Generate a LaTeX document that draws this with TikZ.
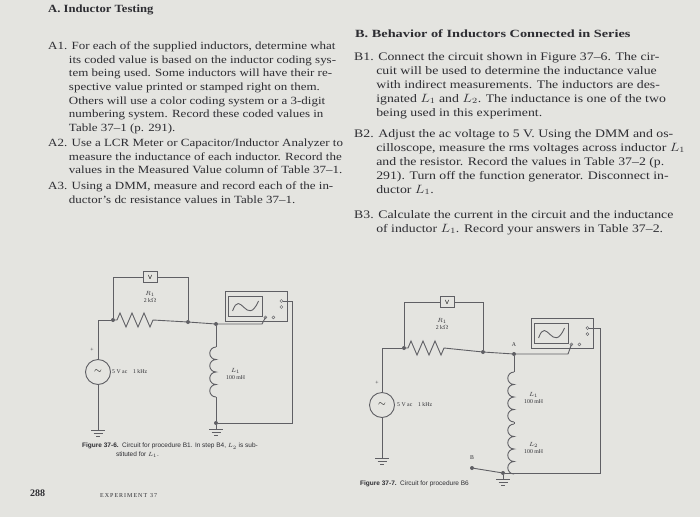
\documentclass[tikz,border=0pt]{standalone}
\usepackage{fontspec}
\setmainfont{Liberation Serif}
\setsansfont{Liberation Sans}
\usetikzlibrary{calc}
\definecolor{paper}{RGB}{228,228,224}
\definecolor{ink}{RGB}{45,45,50}
\definecolor{wire}{RGB}{95,95,100}
\newcommand{\lines}[2]{\scalebox{#1}[1]{\begin{tabular}{@{}l@{}}#2\end{tabular}}}
\tikzset{
  para/.style={anchor=north west,align=left,inner sep=0pt,font=\fontsize{11}{13.6}\selectfont,text=ink},
  parb/.style={anchor=north west,align=left,inner sep=0pt,font=\fontsize{11.5}{14}\selectfont,text=ink},
  head/.style={anchor=north west,inner sep=0pt,font=\bfseries\fontsize{11}{12}\selectfont,text=ink},
  figcap/.style={anchor=north west,align=left,inner sep=0pt,font=\sffamily\fontsize{6.5}{8.5}\selectfont,text=ink},
  lab/.style={inner sep=0pt,font=\fontsize{5.8}{6.8}\selectfont,text=ink,align=center},
  w/.style={draw=wire,line width=0.9pt},
  dot/.style={circle,fill=wire,inner sep=0pt,minimum size=4pt},
  meter/.style={draw=wire,line width=0.9pt,fill=paper,minimum width=14pt,minimum height=11pt,inner sep=0pt,font=\sffamily\fontsize{6}{6}\selectfont},
  src/.style={draw=wire,line width=0.9pt,circle,minimum size=25pt,inner sep=0pt},
}
\newcommand{\gnd}[1]{\draw[w] (#1) -- ++(0,6);
  \draw[w] ($(#1)+(-7,6)$) -- ++(14,0); \draw[w] ($(#1)+(-4.5,9)$) -- ++(9,0); \draw[w] ($(#1)+(-2,12)$) -- ++(4,0);}
\newcommand{\zig}[2]{\draw[w] (#1) -- ++(4,0) -- ++(3,-7) -- ++(6,14) -- ++(6,-14) -- ++(6,14) -- ++(6,-14) -- ++(6,14) -- ++(3,-7) -- (#2);}
\newcommand{\coil}[1]{\draw[w] (#1) \foreach \i in {1,...,4}{ arc[start angle=90,end angle=270,radius=6.25pt] };}
\newcommand{\oscope}[2]{\node[draw=wire,line width=0.9pt,fill=paper,minimum width=62pt,minimum height=30pt,inner sep=0pt] (#1) at (#2) {};
  \draw[w] ($(#1.west)+(4,-10)$) rectangle ($(#1.west)+(38,10)$);
  \draw[w] ($(#1.west)+(8,5)$) .. controls ($(#1.west)+(16,-18)$) and ($(#1.west)+(22,22)$) .. ($(#1.west)+(34,-5)$);
  \draw[wire] ($(#1.east)+(-6,-5)$) circle (1.5pt) ($(#1.east)+(-6,1)$) circle (1.5pt) ($(#1.south east)+(-14,-4)$) circle (1.5pt) ($(#1.south east)+(-22,-4)$) circle (1.5pt);}
\begin{document}
\begin{tikzpicture}[x=1pt,y=-1pt]
\useasboundingbox (0,0) rectangle (700,517);
\fill[paper] (0,0) rectangle (700,517);
% ---- left column
\node[head] (ha) at (48,5) {\scalebox{1.15}[1]{A. Inductor Testing}};
\node[para] (a1) at (48,40) {\lines{1.18}{A1. For each of the supplied inductors, determine what\\
\hspace*{1.6em}its coded value is based on the inductor coding sys-\\
\hspace*{1.6em}tem being used. Some inductors will have their re-\\
\hspace*{1.6em}spective value printed or stamped right on them.\\
\hspace*{1.6em}Others will use a color coding system or a 3-digit\\
\hspace*{1.6em}numbering system. Record these coded values in\\
\hspace*{1.6em}Table 37--1 (p. 291).}};
\node[para] (a2) at (48,137) {\lines{1.18}{A2. Use a LCR Meter or Capacitor/Inductor Analyzer to\\
\hspace*{1.6em}measure the inductance of each inductor. Record the\\
\hspace*{1.6em}values in the Measured Value column of Table 37--1.}};
\node[para] (a3) at (48,180) {\lines{1.18}{A3. Using a DMM, measure and record each of the in-\\
\hspace*{1.6em}ductor's dc resistance values in Table 37--1.}};
% ---- right column
\node[head] (hb) at (355,30) {\scalebox{1.3}[1]{B. Behavior of Inductors Connected in Series}};
\node[parb] (b1) at (354,50) {\lines{1.2}{B1. Connect the circuit shown in Figure 37--6. The cir-\\
\hspace*{1.6em}cuit will be used to determine the inductance value\\
\hspace*{1.6em}with indirect measurements. The inductors are des-\\
\hspace*{1.6em}ignated $L_1$ and $L_2$. The inductance is one of the two\\
\hspace*{1.6em}being used in this experiment.}};
\node[parb] (b2) at (354,127) {\lines{1.2}{B2. Adjust the ac voltage to 5 V. Using the DMM and os-\\
\hspace*{1.6em}cilloscope, measure the rms voltages across inductor $L_1$\\
\hspace*{1.6em}and the resistor. Record the values in Table 37--2 (p.\\
\hspace*{1.6em}291). Turn off the function generator. Disconnect in-\\
\hspace*{1.6em}ductor $L_1$.}};
\node[parb] (b3) at (354,208) {\lines{1.2}{B3. Calculate the current in the circuit and the inductance\\
\hspace*{1.6em}of inductor $L_1$. Record your answers in Table 37--2.}};
% ---- circuit 1
\coordinate (s1t) at (98,320);
\node[dot] (n1) at (113,320) {};
\node[dot] (n2) at (188,322) {};
\node[dot] (n3) at (216,324) {};
\node[dot] (n4) at (216,423) {};
\node[src] (s1) at (98,372) {$\sim$};
\node[meter] (v1) at (150,277) {V};
\draw[w] (n1) |- (v1.west); \draw[w] (v1.east) -| (n2);
\draw[w] (s1t) -- (s1.north); \draw[w] (s1t) -- (n1);
\zig{n1}{n2}
\draw[w] (n2) -- (n3);
\oscope{sc1}{256,306}
\draw[w] (n3) -- (262,324) -- ($(sc1.south east)+(-22,-4)$);
\draw[w] ($(sc1.east)+(-4,-5)$) -- (292,301) |- (n4);
\coordinate (c1a) at (216,347);
\draw[w] (n3) -- (c1a); \coil{c1a}; \draw[w] (216,397) -- (n4);
\gnd{n4}
\coordinate (g1) at (98,424);
\draw[w] (s1.south) -- (g1); \gnd{g1}
\node[lab] (r1l) at (150,297) {$R_1$\\2 k$\Omega$};
\node[lab,anchor=west] (s1l) at (112,372) {5 V ac\quad 1 kHz};
\node[lab,anchor=west] (l1l) at (226,374) {$L_1$\\100 mH};
\node[lab] (p1) at (92,350) {+};
\node[figcap] (cap1) at (82,443) {\textbf{Figure 37-6.} \,Circuit for procedure B1. In step B4, $L_2$ is sub-\\\hspace*{5.2em}stituted for $L_1$.};
% ---- circuit 2
\coordinate (s2t) at (382,348);
\node[dot] (m1) at (404,348) {};
\node[dot] (m2) at (483,352) {};
\node[dot] (mA) at (514,354) {};
\node[dot] (m4) at (503,473) {};
\node[dot] (mB) at (472,468) {};
\node[src] (s2) at (382,405) {$\sim$};
\node[meter] (v2) at (447,302) {V};
\draw[w] (m1) |- (v2.west); \draw[w] (v2.east) -| (m2);
\draw[w] (s2t) -- (s2.north); \draw[w] (s2t) -- (m1);
\zig{m1}{m2}
\draw[w] (m2) -- (mA);
\oscope{sc2}{562,333}
\draw[w] (mA) -- (568,354) -- ($(sc2.south east)+(-22,-4)$);
\draw[w] ($(sc2.east)+(-4,-5)$) -- (600,328) |- (m4);
\coordinate (c2a) at (514,372); \coordinate (c2b) at (514,424);
\draw[w] (mA) -- (c2a); \coil{c2a}; \draw[w] (514,422) -- (c2b); \coil{c2b};
\draw[w] (514,474) |- (m4);
\draw[w] (mB) -- (m4);
\gnd{m4}
\coordinate (g2) at (382,452);
\draw[w] (s2.south) -- (g2); \gnd{g2}
\node[lab] (r2l) at (442,324) {$R_1$\\2 k$\Omega$};
\node[lab,anchor=west] (s2l) at (397,405) {5 V ac\quad 1 kHz};
\node[lab,anchor=west] (l1r) at (524,398) {$L_1$\\100 mH};
\node[lab,anchor=west] (l2r) at (524,448) {$L_2$\\100 mH};
\node[lab] (Al) at (514,345) {A};
\node[lab] (Bl) at (472,458) {B};
\node[lab] (p2) at (377,383) {+};
\node[figcap] (cap2) at (360,481) {\textbf{Figure 37-7.} \,Circuit for procedure B6};
% ---- footer
\node[anchor=west,inner sep=0pt,font=\bfseries\fontsize{10}{10}\selectfont,text=ink] (pg) at (30,493) {288};
\node[anchor=west,inner sep=0pt,font=\fontsize{6}{6}\selectfont,text=ink] (ex) at (100,496) {E\,X\,P\,E\,R\,I\,M\,E\,N\,T\ \ 3\,7};
\end{tikzpicture}
\end{document}
